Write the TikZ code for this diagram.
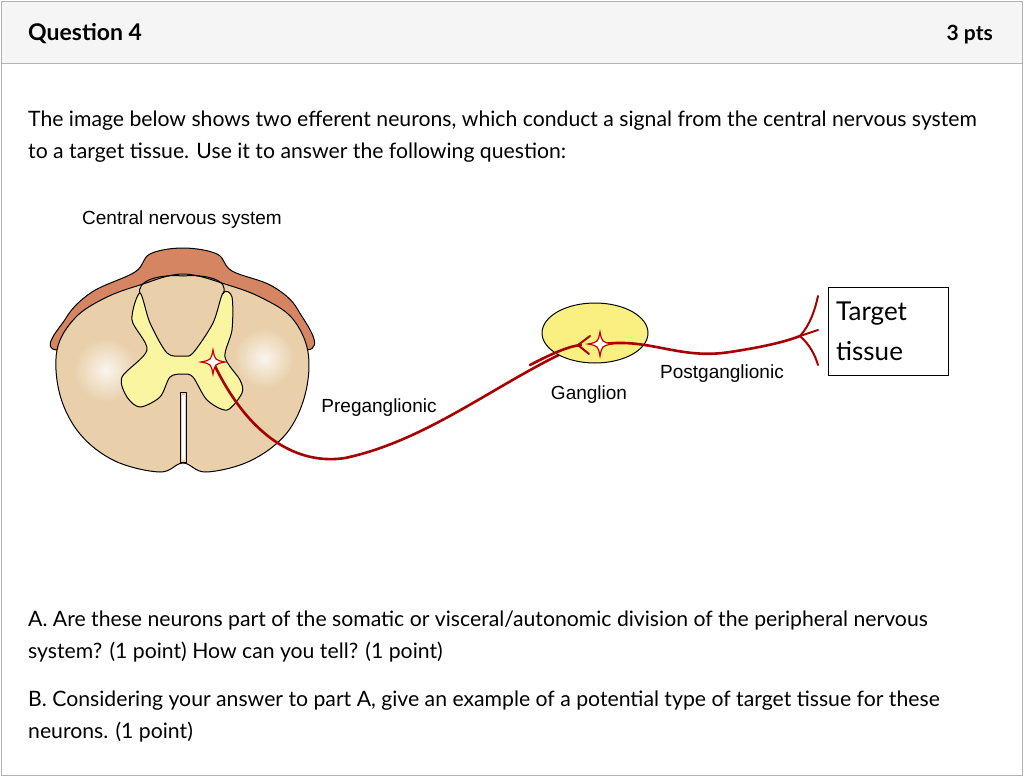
\documentclass[tikz,border=0pt]{standalone}
\usepackage{fontspec}
\setmainfont{Lato}
\newfontfamily\arialf{Liberation Sans}
\begin{document}
\begin{tikzpicture}[x=1pt,y=-1pt,
  qtext/.style={anchor=base west,inner sep=0,font=\fontsize{21.2}{24}\selectfont},
  lab/.style={inner sep=0,font=\arialf\fontsize{19}{22}\selectfont},
  axon/.style={draw=red!65!black,line width=2.6pt,line cap=round},
  syn/.style={draw=red!80!black,fill=white,line width=1.2pt}]
\useasboundingbox (0,0) rectangle (1024,776);
\fill[white] (0,0) rectangle (1024,776);
\fill[gray!8] (1,1) rectangle (1022,63);
\draw[gray!60] (1,1) rectangle (1022,775);
\draw[gray!60] (1,63) -- (1022,63);
\node[anchor=base west,inner sep=0,font=\bfseries\fontsize{23}{26}\selectfont] (q) at (28,41) {Question 4};
\node[anchor=base east,inner sep=0,font=\bfseries\fontsize{21}{24}\selectfont] (pts) at (993,41) {3 pts};
\node[qtext] (t1) at (28,126) {The image below shows two efferent neurons, which conduct a signal from the central nervous system};
\node[qtext] (t2) at (28,158) {to a target tissue. Use it to answer the following question:};
\node[qtext] (a1) at (28,626) {A. Are these neurons part of the somatic or visceral/autonomic division of the peripheral nervous};
\node[qtext] (a2) at (28,658) {system? (1 point) How can you tell? (1 point)};
\node[qtext] (b1) at (28,706) {B. Considering your answer to part A, give an example of a potential type of target tissue for these};
\node[qtext] (b2) at (28,738) {neurons. (1 point)};
% spinal cord
\draw[fill={rgb,255:red,214;green,133;blue,98},line width=1pt] plot[smooth cycle,tension=0.6] coordinates {(58,350) (66,318) (92,292) (135,272) (150,254) (183,248) (217,254) (232,271) (272,286) (298,310) (307,350) (183,320)};
\draw[fill={rgb,255:red,233;green,208;blue,170},line width=1pt] plot[smooth cycle,tension=0.6] coordinates {(57,350) (75,318) (105,298) (140,285) (183,274) (228,285) (262,298) (292,318) (308,352) (305,395) (286,434) (250,461) (206,472) (183,463) (160,472) (115,461) (80,434) (60,395)};
\shade[inner color=white,outer color={rgb,255:red,233;green,208;blue,170},opacity=0.8] (106,370) circle (32);
\shade[inner color=white,outer color={rgb,255:red,233;green,208;blue,170},opacity=0.8] (264,358) circle (30);
\draw[fill={rgb,255:red,250;green,245;blue,160},line width=1pt] plot[smooth cycle,tension=0.5] coordinates {(140,293) (132,320) (147,350) (122,377) (127,397) (140,407) (160,397) (170,377) (183,374) (193,377) (207,400) (227,410) (242,393) (240,380) (225,357) (232,330) (232,297) (223,293) (213,323) (193,353) (183,356) (167,353) (150,323)};
\draw[line width=1pt] (140,294) .. controls (136,280) and (160,274) .. (183,276) .. controls (206,274) and (230,280) .. (223,294);
\draw[fill={rgb,255:red,233;green,208;blue,170},line width=0.8pt] (180,392) -- (180,462) -- (186,462) -- (186,392) -- cycle;
\fill[white] (182,395) rectangle (184.5,460);
% axons
\draw[axon] (213,362) .. controls (250,440) and (300,465) .. (345,458) .. controls (430,440) and (500,380) .. (580,345);
\draw[fill={rgb,255:red,250;green,240;blue,130},line width=1pt] (595,333) ellipse (53 and 30);
\draw[axon] (530,365) .. controls (555,352) and (570,346) .. (581,345);
\draw[axon,line width=2pt] (578,345) -- (590,336) (578,345) -- (589,354);
\draw[axon] (604,344) .. controls (650,338) and (680,360) .. (730,352) .. controls (770,346) and (790,340) .. (800,336);
\draw[axon,line width=2pt] (800,336) .. controls (810,325) and (815,310) .. (818,296);
\draw[axon,line width=2pt] (800,336) -- (818,330);
\draw[axon,line width=2pt] (800,336) .. controls (810,345) and (815,355) .. (818,365);
\node[inner sep=0,minimum size=0pt] (s1) at (213,362) {};
\draw[syn] (213,350) .. controls (215,360) .. (225,362) .. controls (215,364) .. (213,374) .. controls (211,364) .. (201,362) .. controls (211,360) .. cycle;
\draw[syn] (600,332) .. controls (602,342) .. (612,344) .. controls (602,346) .. (600,356) .. controls (598,346) .. (588,344) .. controls (598,342) .. cycle;
% labels
\node[lab] (cns) at (182,220) {Central nervous system};
\node[lab] (pre) at (379,408) {Preganglionic};
\node[lab] (gan) at (589,395) {Ganglion};
\node[lab] (post) at (722,374) {Postganglionic};
\node[draw=black,line width=0.8pt,fill=white,minimum width=120pt,minimum height=88pt,inner sep=0] (tt) at (888,331) {};
\node[anchor=west,inner sep=0,align=left,font=\fontsize{26}{40}\selectfont] (ttx) at (836,331) {Target\\tissue};
\end{tikzpicture}
\end{document}
